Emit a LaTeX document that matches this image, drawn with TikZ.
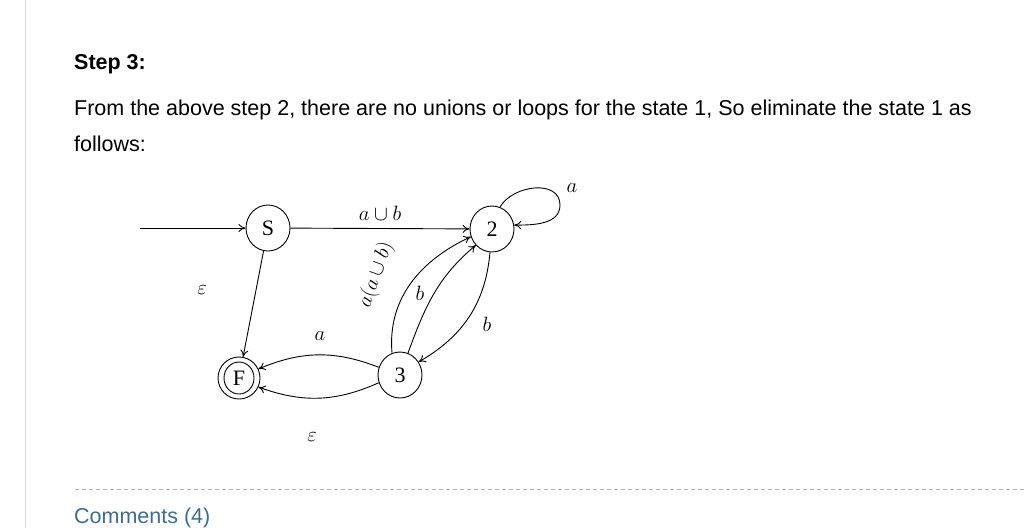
\documentclass[tikz,border=0pt]{standalone}
\usepackage{fontspec}
\setmainfont{Liberation Sans}
\newfontfamily\serif{Liberation Serif}
\usetikzlibrary{arrows.meta,shapes.geometric}
\definecolor{lnk}{HTML}{3B6D96}
\begin{document}
\begin{tikzpicture}[x=1pt,y=-1pt,
  st/.style={draw,ellipse,minimum width=44pt,minimum height=46pt,inner sep=0pt,font=\serif\fontsize{22}{22}\selectfont,line width=0.9pt},
  ed/.style={-{To[length=7pt,width=8pt]},line width=0.9pt},
  lb/.style={font=\serif\itshape\fontsize{22}{22}\selectfont},
  txt/.style={anchor=base west,inner sep=0pt,font=\fontsize{21.5}{24}\selectfont}]
\useasboundingbox (0,0) rectangle (1024,528);
\draw[gray!30,line width=1pt] (25,0) -- (25,528);
\node[txt,font=\bfseries\fontsize{21.5}{24}\selectfont] (t0) at (74,69) {Step 3:};
\node[txt] (t1) at (74,115) {From the above step 2, there are no unions or loops for the state 1, So eliminate the state 1 as};
\node[txt] (t2) at (74,151) {follows:};
\node[st] (S) at (268,228) {S};
\node[st] (2) at (492,229) {2};
\node[st] (3) at (400,375) {3};
\node[draw,circle,minimum size=42pt,inner sep=0pt,line width=0.9pt] (F) at (239,378) {};
\node[st,minimum width=30pt,minimum height=32pt] (Fi) at (239,378) {F};
\coordinate (in) at (140,228);
\draw[ed] (in) -- (S);
\draw[ed] (S) -- node[lb,above=4pt]{$a\cup b$} (2);
\draw[ed] (S) -- (F);
\node[lb] (e1) at (202,290) {$\varepsilon$};
\draw[ed] (3.160) to[bend right=22] (F.25);
\draw[ed] (3.200) to[bend left=22] (F.335);
\node[lb] (la) at (320,336) {$a$};
\node[lb] (le) at (312,437) {$\varepsilon$};
\draw[ed] (3.110) to[out=95,in=205] (2.200);
\draw[ed] (3.70) to[out=70,in=220] (2.225);
\node[lb,inner sep=0pt] (l1) at (376,275) {\rotatebox{70}{$a(a\cup b)$}};
\node[lb] (l2) at (420,293) {$b$};
\draw[ed] (2.265) to[out=265,in=30] (3.35);
\node[lb] (l3) at (487,324) {$b$};
\draw[ed] (2.70) to[out=60,in=90,looseness=1.1] (560,205) to[out=270,in=0] (2.10);
\node[lb] (l4) at (572,188) {$a$};
\draw[gray!60,dash pattern=on 4pt off 3pt] (75,489) -- (1024,489);
\node[txt,text=lnk] (c) at (74,523) {Comments (4)};
\end{tikzpicture}
\end{document}
